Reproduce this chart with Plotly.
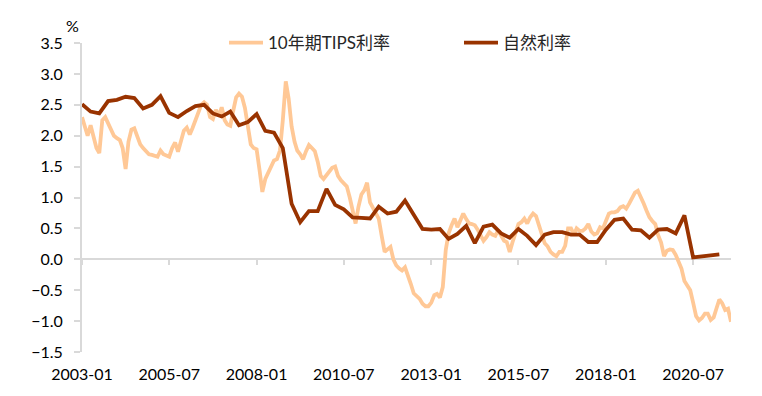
import pandas as pd
import plotly.graph_objects as go

# ---------------- data ----------------
tips_name = "10年期TIPS利率"
nat_name = "自然利率"

tips_start = "2003-01-01"   # monthly series
tips_values = [
    2.30, 2.15, 2.00, 2.17, 1.97, 1.80, 1.72, 2.25, 2.30, 2.20, 2.10, 2.00,   # 2003
    1.96, 1.93, 1.80, 1.46, 1.90, 2.10, 2.12, 1.98, 1.86, 1.80, 1.75, 1.70,   # 2004
    1.69, 1.68, 1.66, 1.76, 1.70, 1.68, 1.66, 1.80, 1.89, 1.74, 1.92, 2.08,   # 2005
    2.13, 2.02, 2.12, 2.25, 2.40, 2.50, 2.54, 2.50, 2.30, 2.27, 2.42, 2.32,   # 2006
    2.46, 2.25, 2.18, 2.16, 2.40, 2.62, 2.68, 2.63, 2.45, 2.20, 1.86, 1.80,   # 2007
    1.78, 1.44, 1.09, 1.30, 1.40, 1.49, 1.60, 1.62, 1.76, 2.25, 2.88, 2.60,   # 2008
    2.15, 1.90, 1.76, 1.70, 1.62, 1.75, 1.85, 1.80, 1.75, 1.58, 1.35, 1.30,   # 2009
    1.36, 1.42, 1.48, 1.50, 1.35, 1.28, 1.22, 1.18, 1.00, 0.80, 0.58, 0.85,   # 2010
    1.05, 1.12, 1.24, 0.92, 0.84, 0.76, 0.66, 0.38, 0.12, 0.16, 0.20, 0.00,   # 2011
    -0.10, -0.15, -0.18, -0.13, -0.25, -0.40, -0.55, -0.60, -0.64, -0.72, -0.76, -0.76,  # 2012
    -0.70, -0.58, -0.56, -0.62, -0.45, 0.15, 0.42, 0.55, 0.66, 0.52, 0.62, 0.74,  # 2013
    0.65, 0.58, 0.57, 0.55, 0.48, 0.38, 0.30, 0.36, 0.44, 0.40, 0.38, 0.47,   # 2014
    0.38, 0.30, 0.28, 0.12, 0.28, 0.45, 0.57, 0.60, 0.66, 0.58, 0.68, 0.74,   # 2015
    0.70, 0.55, 0.42, 0.26, 0.21, 0.12, 0.08, 0.05, 0.12, 0.12, 0.22, 0.50,   # 2016
    0.50, 0.40, 0.50, 0.46, 0.46, 0.50, 0.57, 0.45, 0.40, 0.42, 0.52, 0.50,   # 2017
    0.62, 0.74, 0.76, 0.76, 0.78, 0.84, 0.86, 0.82, 0.90, 0.98, 1.08, 1.11,   # 2018
    1.02, 0.90, 0.79, 0.68, 0.62, 0.57, 0.39, 0.27, 0.05, 0.14, 0.16, 0.15,   # 2019
    0.07, -0.05, -0.15, -0.35, -0.44, -0.50, -0.70, -0.92, -0.99, -0.95, -0.88, -0.88,  # 2020
    -0.98, -0.94, -0.80, -0.65, -0.71, -0.82, -0.80, -1.01,                   # 2021
]

nat_start = "2003-01-01"    # quarterly series
nat_values = [
    2.51, 2.39, 2.36, 2.56,   # 2003
    2.58, 2.63, 2.61, 2.44,   # 2004
    2.50, 2.64, 2.37, 2.30,   # 2005
    2.40, 2.48, 2.50, 2.36,   # 2006
    2.31, 2.39, 2.17, 2.22,   # 2007
    2.35, 2.08, 2.05, 1.80,   # 2008
    0.90, 0.60, 0.78, 0.78,   # 2009
    1.14, 0.88, 0.81, 0.68,   # 2010
    0.67, 0.66, 0.85, 0.74,   # 2011
    0.77, 0.95, 0.72, 0.49,   # 2012
    0.48, 0.49, 0.33, 0.41,   # 2013
    0.54, 0.26, 0.53, 0.56,   # 2014
    0.42, 0.35, 0.49, 0.38,   # 2015
    0.23, 0.40, 0.44, 0.44,   # 2016
    0.40, 0.40, 0.28, 0.28,   # 2017
    0.48, 0.64, 0.66, 0.48,   # 2018
    0.47, 0.35, 0.48, 0.49,   # 2019
    0.42, 0.71, 0.03, 0.05,   # 2020
    0.06, 0.08,               # 2021
]

x_tick_start = "2003-01-01"
x_range = ["2003-01-01", "2021-08-01"]
y_range = [-1.5, 3.5]

tips_dates = pd.date_range(tips_start, periods=len(tips_values), freq="MS")
nat_dates = pd.date_range(nat_start, periods=len(nat_values), freq="QS")

LIGHT = "#FFC896"
DARK = "#993300"
AXIS = "#D9D9D9"
FONT = "Lato, 'Noto Sans CJK SC', sans-serif"

fig = go.Figure()
fig.add_trace(go.Scatter(
    x=tips_dates, y=tips_values, mode="lines", name=tips_name,
    line=dict(color=LIGHT, width=3.8), legend="legend", hoverinfo="skip",
))
fig.add_trace(go.Scatter(
    x=nat_dates, y=nat_values, mode="lines", name=nat_name,
    line=dict(color=DARK, width=3.8), legend="legend2", hoverinfo="skip",
    xaxis="x2",
))

W, H = 762, 396
ml, mr, mt, mb = 82, 31, 43, 44
pw = W - ml - mr

def px_to_paper_x(px):
    return (px - ml) / pw

legend_common = dict(
    orientation="h", yanchor="middle", y=1.0, xanchor="left",
    font=dict(family=FONT, size=17, color="#262626"),
    bgcolor="rgba(0,0,0,0)", itemwidth=34, tracegroupgap=0,
)

fig.update_layout(
    width=W, height=H,
    margin=dict(l=ml, r=mr, t=mt, b=mb),
    plot_bgcolor="white", paper_bgcolor="white",
    font=dict(family=FONT, size=15, color="#000000"),
    showlegend=True,
    legend=dict(x=px_to_paper_x(224), **legend_common),
    legend2=dict(x=px_to_paper_x(459), **legend_common),
    xaxis=dict(
        type="date", range=x_range, tick0=x_tick_start, dtick="M30",
        tickformat="%Y-%m", showgrid=False, showline=False, zeroline=False,
        ticks="outside", ticklen=8, tickcolor="rgba(0,0,0,0)",
        tickfont=dict(family=FONT, size=16, color="#000000"),
        fixedrange=True,
    ),
    xaxis2=dict(
        type="date", range=x_range, tick0=x_tick_start, dtick="M30",
        overlaying="x", matches="x", anchor="free", position=0.3,
        showgrid=False, zeroline=False, showline=True, linecolor=AXIS,
        linewidth=2, ticks="outside", ticklen=5, tickwidth=2, tickcolor=AXIS,
        showticklabels=False, layer="below traces",
    ),
    yaxis=dict(
        range=y_range, dtick=0.5, tick0=0, tickformat=".1f",
        showgrid=False, zeroline=False, showline=True, linecolor=AXIS,
        linewidth=2, ticks="outside", ticklen=6, tickwidth=2, tickcolor=AXIS,
        tickfont=dict(family=FONT, size=16, color="#000000"),
        ticklabelstandoff=8, layer="below traces",
    ),
    annotations=[dict(
        text="%", xref="paper", yref="paper", x=px_to_paper_x(72), y=1.057,
        xanchor="center", yanchor="middle", showarrow=False,
        font=dict(family=FONT, size=16, color="#000000"),
    )],
)

fig.write_html(
    "out.html",
    config={"displayModeBar": False},
    post_script="document.body.style.margin='0';document.body.style.overflow='hidden';",
)
